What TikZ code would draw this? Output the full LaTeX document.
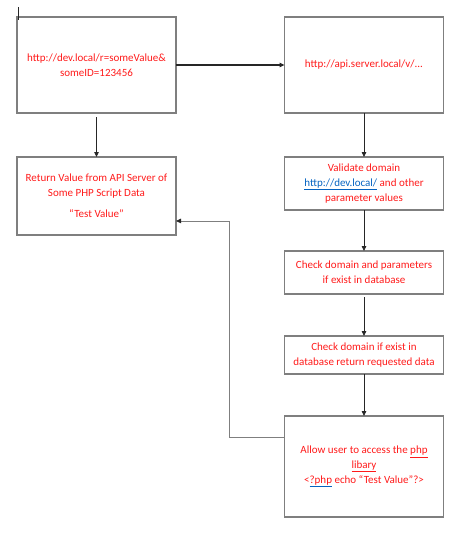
\documentclass[tikz,border=0pt]{standalone}
\usepackage{fontspec}
\setmainfont{Carlito}
\usepackage{xcolor}
\usetikzlibrary{arrows.meta,positioning,calc}
\definecolor{figred}{HTML}{FF1A1A}
\definecolor{figlink}{HTML}{0563C1}
\definecolor{figgray}{HTML}{7F7F7F}
\definecolor{figink}{HTML}{262626}
\newcommand{\redmark}[1]{\underline{#1}}
\newcommand{\bluemark}[1]{\textcolor{figlink}{\underline{\textcolor{figred}{#1}}}}
\newcommand{\weblink}[1]{\textcolor{figlink}{\underline{#1}}}

\begin{document}
\begin{tikzpicture}[x=1pt, y=-1pt,
  font=\fontsize{11}{14.8}\selectfont,
  box/.style={draw=figgray, line width=1.2pt, text=figred, align=center,
              minimum width=159pt, inner sep=2pt, outer sep=0pt},
  flow/.style={-{Triangle[length=5pt, width=4.5pt, color=figink]}, figink, line width=0.8pt},
  mainflow/.style={flow, line width=1.4pt}]
\useasboundingbox (0,0) rectangle (474,549);
% left column
\node[box, minimum height=96pt] (request) at (96.5,65)
  {http://dev.local/r=someValue\&\\someID=123456};
\node[box, minimum height=78pt] (result) at (96.5,196)
  {Return Value from API Server of\\Some PHP Script Data\\[6pt]“Test Value”};
% right column
\node[box, minimum height=96pt] (api) at (364,65) {http://api.server.local/v/...};
\node[box, minimum height=53pt] (validate) at (364,183.5)
  {Validate domain\\\weblink{http://dev.local/} and other\\parameter values};
\node[box, minimum height=43pt] (checkparams) at (364,272.5)
  {Check domain and parameters\\if exist in database};
\node[box, minimum height=38pt] (checkdomain) at (364,355)
  {Check domain if exist in\\database return requested data};
\node[box, minimum height=101pt] (access) at (364,466.5)
  {Allow user to access the \redmark{php}\\\redmark{libary}\\
   <\bluemark{?php} echo “Test Value”?>};
% connectors
\draw[mainflow] (request.east) -- (api.west);
\draw[flow, shorten <=4pt] (request.south) -- (result.north);
\draw[flow] (api.south) -- (validate.north);
\draw[flow] (validate.south) -- (checkparams.north);
\draw[flow, shorten <=3pt] (checkparams.south) -- (checkdomain.north);
\draw[flow] (checkdomain.south) -- (access.north);
\coordinate (backout) at ($(access.north west)!0.21!(access.south west)$);
\coordinate (backin) at ($(result.north east)!0.82!(result.south east)$);
\draw[flow, draw=figgray] (backout) -| ($(backin)+(53,0)$) -- (backin);
% stray mark
\coordinate (marktop) at (18,7);
\draw[figink, line width=0.6pt] (marktop) -- ++(0,13);
\end{tikzpicture}
\end{document}
